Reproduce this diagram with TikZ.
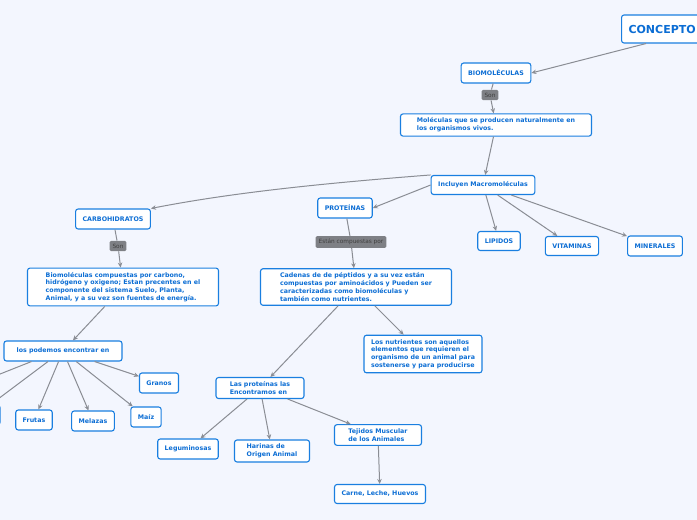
\documentclass[tikz,border=0pt]{standalone}
\usepackage{fontspec}
\setmainfont{DejaVu Sans}
\usetikzlibrary{arrows.meta}
\definecolor{bg}{HTML}{F3F6FE}
\definecolor{bd}{HTML}{1A7FE0}
\definecolor{tx}{HTML}{0B6DD4}
\definecolor{ln}{HTML}{8A8D94}
\definecolor{lb}{HTML}{7E8085}
\tikzset{
 box/.style={draw=bd,line width=1.1pt,fill=white,rounded corners=2.5pt,text=tx,font=\bfseries\fontsize{6.3}{7.8}\selectfont,inner xsep=7pt,inner ysep=4pt,align=left},
 lab/.style={fill=lb,rounded corners=1.5pt,text=black!75,font=\fontsize{5.8}{6.5}\selectfont,inner sep=3pt},
 con/.style={draw=ln,line width=1pt,-{Stealth[length=5pt,width=4.5pt]}},
 pln/.style={draw=ln,line width=1pt}
}
\begin{document}
\begin{tikzpicture}[x=1pt,y=-1pt]
\clip (0,0) rectangle (697,520);
\fill[bg] (0,0) rectangle (697,520);
\node[box,anchor=west,minimum height=28pt,font=\bfseries\fontsize{11}{13}\selectfont] (concept) at (621,29) {CONCEPTO};
\node[box,minimum height=20pt] (bio) at (496,73) {BIOMOLÉCULAS};
\node[lab] (son1) at (490,95) {Son};
\node[box,minimum width=191pt] (mol) at (496,125) {Moléculas que se producen naturalmente en\\los organismos vivos.};
\node[box,minimum height=19pt] (inc) at (483,185) {Incluyen Macromoléculas};
\node[box,minimum height=20pt] (carb) at (113,219) {CARBOHIDRATOS};
\node[lab] (son2) at (118,246) {Son};
\node[box,minimum width=191pt] (biom) at (123,287) {Biomoléculas compuestas por carbono,\\hidrógeno y oxigeno; Estan precentes en el\\componente del sistema Suelo, Planta,\\Animal, y a su vez son fuentes de energía.};
\node[box,minimum height=20pt] (prot) at (345,208) {PROTEÍNAS};
\node[lab] (est) at (351,242) {Están compuestas por};
\node[box,minimum width=191pt] (cad) at (356,287) {Cadenas de de péptidos y a su vez están\\compuestas por aminoácidos y Pueden ser\\caracterizadas como biomoléculas y\\también como nutrientes.};
\node[box,minimum height=19pt] (lip) at (499,241) {LIPIDOS};
\node[box,minimum height=19pt] (vit) at (572,246) {VITAMINAS};
\node[box,minimum height=20pt] (min) at (655,246) {MINERALES};
\node[box] (nut) at (423,354) {Los nutrientes son aquellos\\elementos que requieren el\\organismo de un animal para\\sostenerse y para producirse};
\node[box,minimum height=20pt,minimum width=118pt,align=center] (pod) at (63,351) {los podemos encontrar en};
\node[box,minimum height=20pt] (gra) at (159,383) {Granos};
\node[box,minimum height=20pt] (fru) at (34,420) {Frutas};
\node[box,minimum height=20pt] (mel) at (93,421) {Melazas};
\node[box,minimum height=20pt] (mai) at (146,417) {Maíz};
\node[box,minimum height=20pt,minimum width=40pt] (cut) at (-20,415) {};
\node[box,minimum width=88pt] (lpe) at (260,388) {Las proteínas las\\Encontramos en};
\node[box,minimum height=20pt] (leg) at (188,449) {Leguminosas};
\node[box,minimum width=75pt] (har) at (272,451) {Harinas de\\Origen Animal};
\node[box,minimum width=87pt] (tej) at (378,435) {Tejidos Muscular\\de los Animales};
\node[box,minimum height=19pt] (car) at (380,494) {Carne, Leche, Huevos};
\coordinate (off1) at (-10,378);
\coordinate (off2) at (-10,405);
\draw[con] (concept.south west) ++(25,0) -- (bio.east);
\draw[pln] (bio) -- (son1);
\draw[con] (son1) -- (mol);
\draw[con] (mol) -- (inc);
\draw[con] (inc.north west) .. controls (300,185) and (220,195) .. (carb.north east);
\draw[con] (inc.west) -- (prot.east);
\draw[con] (inc) -- (lip);
\draw[con] (inc) -- (vit);
\draw[con] (inc) -- (min);
\draw[pln] (carb) -- (son2);
\draw[con] (son2) -- (biom);
\draw[con] (biom) -- (pod);
\draw[con] (pod) -- (gra);
\draw[con] (pod) -- (mai);
\draw[con] (pod) -- (mel);
\draw[con] (pod) -- (fru);
\draw[pln] (pod.south west) ++(28,0) -- (off1);
\draw[pln] (pod.south) ++(-15,0) -- (off2);
\draw[pln] (prot) -- (est);
\draw[con] (est) -- (cad);
\draw[con] (cad) -- (lpe);
\draw[con] (cad) -- (nut);
\draw[con] (lpe) -- (leg);
\draw[con] (lpe) -- (har);
\draw[con] (lpe) -- (tej);
\draw[con] (tej) -- (car);
\end{tikzpicture}
\end{document}
